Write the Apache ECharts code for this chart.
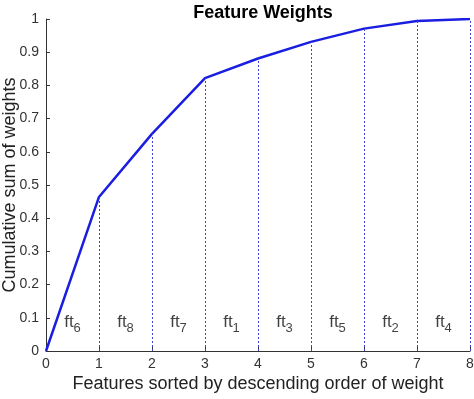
<!DOCTYPE html>
<html>
<head>
<meta charset="utf-8">
<script src="https://cdn.jsdelivr.net/npm/echarts@6/dist/echarts.min.js"></script>
<style>
html, body { margin: 0; padding: 0; background: #fff; }
#main { width: 474px; height: 399px; }
</style>
</head>
<body>
<div id="main"></div>
<script>
// cumulative weights at each feature count
var featureIndex = [0, 1, 2, 3, 4, 5, 6, 7, 8];
var cumWeights = [0, 0.464, 0.654, 0.822, 0.881, 0.931, 0.971, 0.994, 1.0];
// feature label for each interval
var featureNums = ['6', '8', '7', '1', '3', '5', '2', '4'];
var xTicks = [0, 1, 2, 3, 4, 5, 6, 7, 8];
var yTicks = [0, 0.1, 0.2, 0.3, 0.4, 0.5, 0.6, 0.7, 0.8, 0.9, 1];

var fontName = 'Liberation Sans';

var lineData = featureIndex.map(function (x, i) { return [x, cumWeights[i]]; });

// dotted drop lines
var dropLines = [];
for (var i = 1; i < featureIndex.length; i++) {
	dropLines.push([
		{ coord: [featureIndex[i], 0] },
		{ coord: [featureIndex[i], cumWeights[i]] }
	]);
}

var labelData = featureNums.map(function (n, i) {
	return {
		value: [i + 0.5, 0.087],
		label: { formatter: '{b|ft}{s|' + n + '}' }
	};
});

var myChart = echarts.init(document.getElementById('main'));

var option = {
	animation: false,
	title: {
		text: 'Feature Weights',
		left: 258,
		textAlign: 'center',
		top: -1,
		textStyle: { fontFamily: fontName, fontSize: 18, fontWeight: 'bold', color: '#000' }
	},
	grid: { left: 46, right: 4, top: 19, bottom: 48, containLabel: false, outerBoundsMode: 'none' },
	xAxis: {
		type: 'value',
		min: 0, max: 8, interval: 1,
		name: 'Features sorted by descending order of weight',
		nameLocation: 'middle',
		nameGap: 24,
		nameMoveOverlap: false,
		nameTextStyle: { fontFamily: fontName, fontSize: 18, color: '#222' },
		axisLine: { lineStyle: { color: '#333', width: 1 } },
		axisTick: { inside: true, length: 4, lineStyle: { color: '#333' } },
		axisLabel: { fontFamily: fontName, fontSize: 14, color: '#333', margin: 6,
			formatter: function (v) { return xTicks.indexOf(v) >= 0 ? String(v) : ''; } },
		splitLine: { show: false }
	},
	yAxis: {
		type: 'value',
		min: 0, max: 1, interval: 0.1,
		name: 'Cumulative sum of weights',
		nameLocation: 'middle',
		nameGap: 27,
		nameMoveOverlap: false,
		nameTextStyle: { fontFamily: fontName, fontSize: 18, color: '#222' },
		axisLine: { show: true, lineStyle: { color: '#333', width: 1 } },
		axisTick: { show: true, inside: true, length: 4, lineStyle: { color: '#333' } },
		axisLabel: { fontFamily: fontName, fontSize: 14, color: '#333', margin: 7,
			formatter: function (v) {
				var r = Math.round(v * 10) / 10;
				return yTicks.indexOf(r) >= 0 ? String(r) : '';
			} },
		splitLine: { show: false }
	},
	series: [{
		type: 'line',
		data: lineData,
		symbol: 'none',
		lineStyle: { color: '#1a1ee0', width: 2.5 },
		markLine: {
			silent: true,
			symbol: 'none',
			label: { show: false },
			emphasis: { disabled: true },
			lineStyle: { color: '#4040d8', type: [2, 2], width: 1 },
			data: dropLines
		},
		z: 3
	}, {
		type: 'scatter',
		data: labelData,
		symbolSize: 0,
		silent: true,
		label: {
			show: true,
			position: 'inside',
			rich: {
				b: { fontFamily: fontName, fontSize: 17, color: '#111' },
				s: { fontFamily: fontName, fontSize: 13, color: '#111', padding: [13, 0, 0, 0] }
			}
		}
	}]
};

myChart.setOption(option);
</script>
</body>
</html>
